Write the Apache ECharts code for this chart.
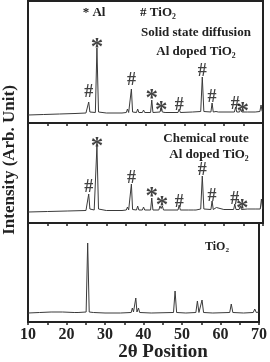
<!DOCTYPE html>
<html>
<head>
<meta charset="utf-8">
<script src="https://cdn.jsdelivr.net/npm/echarts@6/dist/echarts.min.js"></script>
<style>
  html, body { margin: 0; padding: 0; background: #fff; }
  #main { width: 270px; height: 362px; }
</style>
</head>
<body>
<div id="main"></div>
<script>
  // 2theta ticks
  const xMin = 10, xMax = 70, xStep = 5;

  // solid state diffusion Al doped TiO2  [2theta, intensity]
  const solidPts = [
    [10, 8], [14, 8.5], [18, 9], [22, 9.5], [24.8, 10], [25.2, 11], [25.5, 21], [25.8, 11],
    [27.2, 10.5], [27.6, 75], [28.0, 11], [30, 10], [34, 10], [35.1, 10.5], [35.4, 14], [35.7, 10.5],
    [36.1, 11], [36.4, 34], [36.7, 11], [37.7, 10.5], [38.0, 14], [38.3, 10.5], [39.2, 10.5], [39.5, 13],
    [39.8, 10.5], [41.3, 10.5], [41.6, 23], [41.9, 10.5], [43.7, 11], [44.0, 15], [44.3, 11], [45, 10.5],
    [48.3, 10.5], [48.6, 14], [48.9, 10.5], [52, 11], [54.1, 11.5], [54.5, 46], [54.9, 11.5], [56.7, 11],
    [57.0, 20], [57.3, 11], [58, 11.5], [58.3, 12.5], [58.6, 11], [62.7, 11], [63.0, 16], [63.3, 11],
    [64, 11], [64.3, 14], [64.6, 11], [66, 11], [68, 11], [69.2, 11.5], [69.5, 18], [69.8, 11.5], [70, 12]
  ];

  // chemical route Al doped TiO2
  const chemPts = [
    [10, 11], [15, 11.5], [20, 12], [24.8, 12.5], [25.2, 14], [25.5, 29], [25.8, 14], [26.3, 12.5],
    [26.9, 13], [27.2, 13], [27.6, 77], [28.0, 14], [28.4, 12.5], [30, 12.5], [34, 12.5], [35.1, 13],
    [35.4, 16], [35.7, 13], [36.1, 13.5], [36.4, 39], [36.7, 13.5], [37.7, 13], [38.0, 17], [38.3, 13],
    [39.2, 13], [39.5, 16], [39.8, 13], [41.3, 13], [41.6, 25], [41.9, 13], [43.4, 13], [43.7, 17],
    [44.0, 14.5], [44.3, 17], [44.6, 13], [46, 13], [48.3, 13], [48.6, 18], [48.9, 13], [51, 13],
    [52.3, 13], [52.6, 15], [52.9, 13], [54.1, 14], [54.5, 47], [54.9, 14], [56.7, 13.5], [57.0, 22],
    [57.3, 13.5], [57.8, 13.5], [58.1, 15.5], [58.4, 13.5], [60, 13.5], [62.5, 13.5], [62.8, 19], [63.1, 13.5],
    [63.9, 13.5], [64.2, 17], [64.5, 13.5], [66, 14], [68, 14], [69.3, 14], [69.6, 24], [69.9, 14], [70, 14]
  ];

  // pure TiO2
  const tio2Pts = [
    [10, 9], [13, 9.5], [16, 10], [19, 10], [22, 9.5], [23, 9.5], [23.2, 11], [23.4, 9.5],
    [25.1, 10], [25.5, 79], [25.9, 10], [27, 9.5], [30, 9], [34, 9], [36.8, 9.5], [37.1, 14],
    [37.4, 10], [37.7, 10], [38.0, 24], [38.3, 10], [38.5, 10.5], [38.7, 14], [39, 9.5], [42, 9],
    [47.8, 9.5], [48.2, 31], [48.6, 9.5], [51, 9], [53.6, 9.5], [54.0, 21], [54.4, 9.5], [54.8, 9.5],
    [55.2, 22], [55.6, 9.5], [58, 9], [62.4, 9.5], [62.8, 18], [63.2, 9.5], [66, 9], [68.5, 9.5],
    [68.9, 13], [69.3, 9.5], [70, 10]
  ];

  // peak markers [2theta, position, symbol]
  const solidMarks = [
    [25.5, 31, '#'], [27.6, 80, '*'], [36.4, 43, '#'], [41.6, 29, '*'], [44.0, 17, '*'],
    [48.6, 18, '#'], [54.5, 52, '#'], [57.0, 26, '#'], [62.9, 19, '#'], [64.8, 16, '*']
  ];
  const chemMarks = [
    [25.5, 36, '#'], [27.6, 81, '*'], [36.4, 45, '#'], [41.6, 31, '*'], [44.2, 22, '*'],
    [48.6, 21, '#'], [54.5, 53, '#'], [57.0, 27, '#'], [62.8, 24, '#'], [64.7, 19, '*']
  ];

  const yMax = [122, 100, 99];

  const serif = '"Liberation Serif", "DejaVu Serif", serif';
  const ink = '#222';
  const chart = echarts.init(document.getElementById('main'));

  const grids = [
    { left: 28, right: 7, top: 1, height: 122 },
    { left: 28, right: 7, top: 123, height: 100 },
    { left: 28, right: 7, top: 223, height: 99 }
  ].map(g => Object.assign(g, { show: true, borderColor: ink, borderWidth: 2 }));

  const xAxes = grids.map((g, i) => ({
    type: 'value', gridIndex: i, min: xMin, max: xMax, interval: xStep,
    axisLine: { show: true, lineStyle: { color: ink, width: 2 } },
    axisTick: { show: true, inside: false, length: 3, lineStyle: { color: ink, width: 1.5 } },
    splitLine: { show: false },
    axisLabel: {
      show: i === 2, margin: 5, color: ink, fontFamily: serif, fontWeight: 'bold', fontSize: 16,
      formatter: v => (v % 10 === 0 ? String(v) : '')
    }
  }));

  const yAxes = grids.map((g, i) => ({
    type: 'value', gridIndex: i, min: 0, max: yMax[i],
    axisLine: { show: true, lineStyle: { color: ink, width: 2 } },
    axisTick: { show: false }, axisLabel: { show: false }, splitLine: { show: false }
  }));

  function lineSeries(pts, i) {
    return {
      type: 'line', xAxisIndex: i, yAxisIndex: i, data: pts, showSymbol: false,
      lineStyle: { color: '#3a3a3a', width: 1 }, silent: true, animation: false
    };
  }

  function markSeries(marks, i) {
    return {
      type: 'scatter', xAxisIndex: i, yAxisIndex: i, symbolSize: 1,
      itemStyle: { color: 'rgba(0,0,0,0)' }, silent: true, animation: false,
      data: marks.map(m => ({
        value: [m[0], m[1]],
        label: {
          show: true, position: 'inside', formatter: m[2],
          fontFamily: serif, fontWeight: 'bold', color: '#111',
          fontSize: m[2] === '*' ? 25 : 18,
          offset: m[2] === '*' ? [0, 6] : [0, 0]
        }
      }))
    };
  }

  function txt(x, y, text, size, weight) {
    return {
      type: 'text', x: x, y: y, silent: true,
      style: {
        text: text, fill: ink, font: (weight || 'bold') + ' ' + size + 'px ' + serif,
        textAlign: 'center', textVerticalAlign: 'middle'
      }
    };
  }

  chart.setOption({
    animation: false,
    grid: grids,
    xAxis: xAxes,
    yAxis: yAxes,
    series: [
      lineSeries(solidPts, 0), lineSeries(chemPts, 1), lineSeries(tio2Pts, 2),
      markSeries(solidMarks, 0), markSeries(chemMarks, 1)
    ],
    graphic: [
      txt(94, 13, '* Al', 13),
      txt(158, 13, '# TiO₂', 13),
      txt(196, 33, 'Solid state diffusion', 13),
      txt(196, 52, 'Al doped TiO₂', 13),
      txt(206, 139, 'Chemical route', 13),
      txt(209, 155, 'Al doped TiO₂', 13),
      txt(217, 247, 'TiO₂', 12),
      txt(163, 352, '2θ Position', 19),
      Object.assign(txt(10, 160, 'Intensity (Arb. Unit)', 17), { rotation: Math.PI / 2 })
    ]
  });
</script>
</body>
</html>
